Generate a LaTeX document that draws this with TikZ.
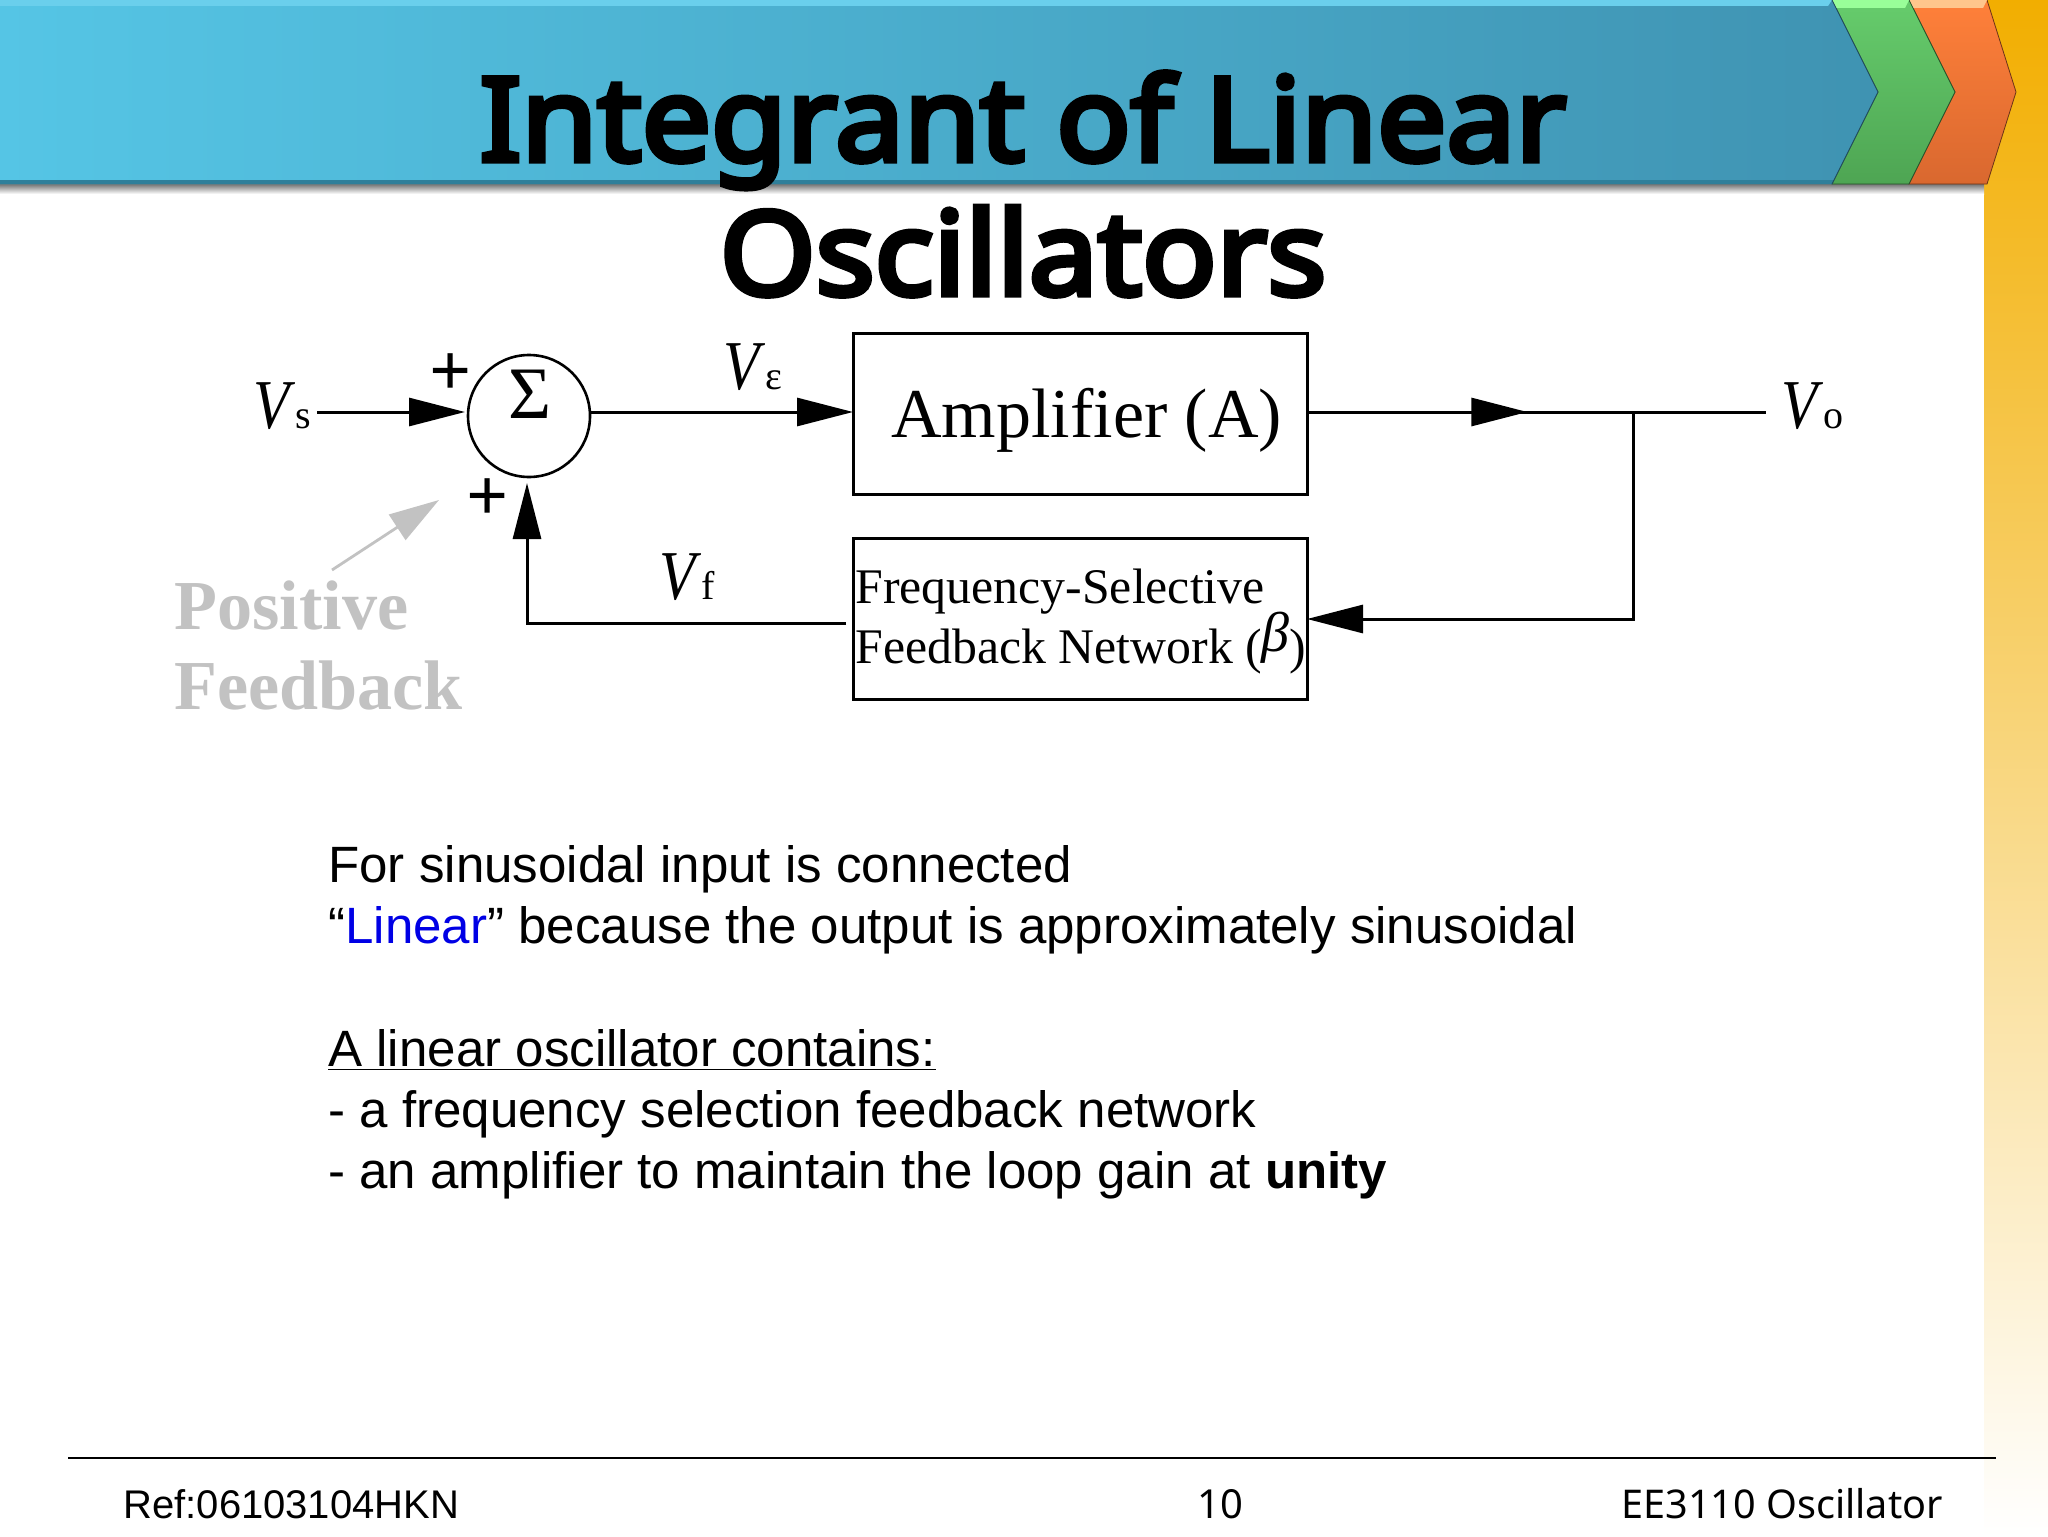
\documentclass[tikz,border=0pt]{standalone}
\usepackage{fontspec}
\setmainfont{Liberation Serif}
\setsansfont{Liberation Sans}
\newfontfamily\titlefont{Noto Sans}
\newfontfamily\titleheavy[FakeBold=5,FakeStretch=1.06]{Noto Sans}
\usetikzlibrary{arrows.meta,decorations.markings}
\definecolor{bluetop}{HTML}{55C5E5}
\definecolor{blueend}{HTML}{3F93B2}
\definecolor{bluelite}{HTML}{6ACFEC}
\definecolor{bluedark}{HTML}{2F7F9A}
\definecolor{greentop}{HTML}{66CC6C}
\definecolor{greenend}{HTML}{4EA553}
\definecolor{orangetop}{HTML}{FF803A}
\definecolor{orangeend}{HTML}{D9682F}
\definecolor{goldtop}{HTML}{F2AE00}
\definecolor{goldmid}{HTML}{F7D064}
\definecolor{grayfb}{HTML}{C2C2C2}
\tikzset{
  wire/.style={line width=1.5pt},
  tipped/.style={-{Triangle[length=28pt,width=14pt]}},
  ->-/.style={decoration={markings,
      mark=at position #1 with {\arrow{Triangle[length=28pt,width=14pt]}}},postaction={decorate}},
  blockbox/.style={draw, line width=1.5pt, inner sep=0pt, outer sep=0pt, minimum width=227pt, minimum height=80.5pt},
  sumnode/.style={circle, draw, line width=1.3pt, inner sep=0pt, outer sep=0pt, minimum size=61pt},
  volt/.style={anchor=base west, inner sep=0pt},
  plusmark/.style={inner sep=0pt, font=\bfseries\fontsize{37}{37}\selectfont},
}
\newcommand{\volts}[2]{\fontsize{35}{35}\selectfont\scalebox{0.85}[1]{\textit{#1}}{\fontsize{20}{20}\selectfont #2}}
\begin{document}
\begin{tikzpicture}[x=0.5pt, y=-0.5pt]
    \useasboundingbox (0,0) rectangle (2048,1536);
    % side strip
    \shade[top color=goldtop, middle color=goldmid, bottom color=white]
      (1984,0) rectangle (2048,1536);
    % banner
    \shade[top color=black!55, bottom color=white] (0,184) rectangle (1984,194);
    \shade[top color=orangetop, bottom color=orangeend, draw=orangeend!50!black]
      (1909,0) -- (1987,0) -- (2016,92) -- (1987,184) -- (1909,184) -- (1955,92) -- cycle;
    \fill[orange!45!white] (1909,0) -- (1987,0) -- (1983,8) -- (1913,8) -- cycle;
    \shade[top color=greentop, bottom color=greenend, draw=greenend!50!black]
      (1832,0) -- (1909,0) -- (1955,92) -- (1909,184) -- (1832,184) -- (1878,92) -- cycle;
    \fill[green!40!white] (1832,0) -- (1909,0) -- (1905,8) -- (1836,8) -- cycle;
    \shade[left color=bluetop, right color=blueend]
      (0,0) -- (1832,0) -- (1878,92) -- (1832,184) -- (0,184) -- cycle;
    \fill[bluelite] (0,0) -- (1832,0) -- (1828,6) -- (0,6) -- cycle;
    \fill[bluedark] (0,180) -- (1834,180) -- (1832,184) -- (0,184) -- cycle;
    \draw[blueend!50!black] (1832,0) -- (1878,92) -- (1832,184);
    \node[font=\titleheavy\fontsize{58}{67}\selectfont, align=center, inner sep=0pt] (title) at (1023,184)
      {Integrant of Linear\\Oscillators};
    % block diagram
    \node[sumnode] (sum) at (529,416) {};
    \node[inner sep=0pt, font=\fontsize{37}{37}\selectfont] (sigma) at (530,394) {Σ};
    \node[blockbox] (amp) at (1080,413.5) {};
    \node[inner sep=0pt, anchor=base west, font=\fontsize{35}{35}\selectfont] (amptext) at (891,437) {Amplifier (A)};
    \node[blockbox] (fbnet) at (1080,618.5) {};
    \node[inner sep=0pt, anchor=base west, font=\fontsize{24.9}{30}\selectfont] (fbtext1) at (855,603) {Frequency-Selective};
    \node[inner sep=0pt, anchor=base west, font=\fontsize{24.9}{30}\selectfont] (fbtext2) at (855,663) {Feedback Network (\raisebox{6pt}{\fontsize{28}{28}\selectfont\textit{β}})};
    \node[volt] (vs) at (253,428) {\volts{V}{s}};
    \node[volt] (ve) at (723,389) {\volts{V}{ε}};
    \node[volt] (vf) at (659,599) {\volts{V}{f}};
    \node[volt] (vo) at (1781,428) {\volts{V}{o}};
    \node[plusmark] (plustop) at (451,375) {+};
    \node[plusmark] (plusbot) at (488,500) {+};
    \coordinate (vsout) at (317,412);
    \coordinate (split) at (1633,412);
    \coordinate (outend) at (1766,412);
    \coordinate (backdown) at (1633,619);
    \coordinate (fbout) at (846,623);
    \coordinate (fbcorner) at (527,623);
    \coordinate (sumin) at (527,483);
    \draw[wire,tipped,shorten >=1.5pt] (vsout) -- (vsout -| sum.west);
    \draw[wire,tipped] (sum.east |- vsout) -- (amp.west |- vsout);
    \draw[wire,->-=0.48] (amp.east |- vsout) -- (outend);
    \draw[wire,tipped] (split) -- (backdown) -- (fbnet.east |- backdown);
    \draw[wire,tipped] (fbout) -- (fbcorner) -- (sumin);
    % positive feedback note
    \node[anchor=north west, align=left, inner sep=0pt, text=grayfb, font=\bfseries\fontsize{35.1}{40.2}\selectfont]
      (note) at (174,580) {Positive\\Feedback};
    \coordinate (notefrom) at (332,570);
    \coordinate (noteto) at (439,500);
    \draw[draw=grayfb, line width=1.4pt, -{Triangle[length=25pt,width=15pt]}] (notefrom) -- (noteto);
    % body text
    \node[anchor=north west, align=left, inner sep=0pt, font=\sffamily\fontsize{25.53}{30.65}\selectfont] (body) at (328,845)
      {For sinusoidal input is connected\\
       “\textcolor{blue!90!black}{Linear}” because the output is approximately sinusoidal\\[30.65pt]
       \underline{A linear oscillator contains:}\\
       - a frequency selection feedback network\\
       - an amplifier to maintain the loop gain at \textbf{unity}};
    % footer
    \coordinate (ruleleft) at (68,1458);
    \coordinate (ruleright) at (1996,1458);
    \draw[line width=1pt] (ruleleft) -- (ruleright);
    \node[anchor=base west, inner sep=0pt, font=\sffamily\fontsize{20}{20}\selectfont] (ref) at (123,1518) {Ref:06103104HKN};
    \node[anchor=base west, inner sep=0pt, font=\titlefont\fontsize{20}{20}\selectfont] (page) at (1197,1518) {10};
    \node[anchor=base east, inner sep=0pt, font=\titlefont\fontsize{19.8}{20}\selectfont] (course) at (1943,1518) {EE3110 Oscillator};
\end{tikzpicture}
\end{document}
